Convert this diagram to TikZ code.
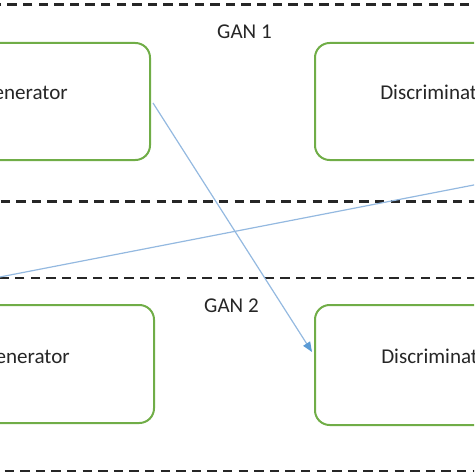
\documentclass[tikz,border=0pt]{standalone}
\usepackage{fontspec}
\setmainfont{Carlito}
\usepackage{xcolor}
\usetikzlibrary{positioning,arrows.meta,calc}

\definecolor{boxgreen}{HTML}{70AD47}
\definecolor{linkblue}{HTML}{94B9E0}
\definecolor{tipblue}{HTML}{5B9BD5}
\definecolor{txtgray}{HTML}{262626}

\tikzset{
  netbox/.style={draw=boxgreen, line width=1.5pt, rounded corners=11pt, minimum width=184.5pt},
  netlabel/.style={text=txtgray, font=\fontsize{15.8}{18}\selectfont, inner sep=0pt, anchor=base},
  groupline/.style={line width=2pt, dash pattern=on 7pt off 4.7pt, black!85},
  link/.style={draw=linkblue, line width=0.9pt}
}

\begin{document}
\begin{tikzpicture}[x=0.75pt, y=-0.75pt]

\useasboundingbox (0,0) rectangle (474,474);
\clip (0,0) rectangle (474,474);

% GAN groups
\draw[groupline] (-130,4.5) rectangle (620,201.5);
\draw[groupline] (-130,278) rectangle (620,471);

\node[netlabel] (gan1) at (244.5,39) {GAN 1};
\node[netlabel] (gan2) at (231.5,312) {GAN 2};

% networks
\node[netbox, minimum height=87.75pt] (gen1) at (27,101.5) {};
\node[netbox, minimum height=87.75pt] (dis1) at (438,101.5) {};
\node[netbox, minimum height=88.5pt] (gen2) at (31,364) {};
\node[netbox, minimum height=90pt] (dis2) at (438,365) {};

\node[netlabel, anchor=base east] (gen1txt) at (68,100) {Generator};
\node[netlabel, anchor=base west] (dis1txt) at (380,100) {Discriminator};
\node[netlabel, anchor=base east] (gen2txt) at (70,363) {Generator};
\node[netlabel, anchor=base west] (dis2txt) at (381,363.5) {Discriminator};

% cross links
\coordinate (fbstart) at (600,160.5);
\coordinate (fbend) at (-130,302.2);

\draw[link, -{Triangle[length=7.5pt, width=6pt, color=tipblue]}]
  ([xshift=1.5pt, yshift=-1.1pt]gen1.east) -- ([xshift=-1.5pt, yshift=9.75pt]dis2.west);
\draw[link] (fbstart) -- (fbend);
\end{tikzpicture}
\end{document}
